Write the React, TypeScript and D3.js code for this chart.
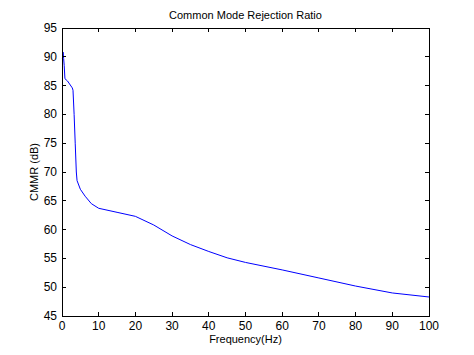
import React from "react";
import * as d3 from "d3";

const freq = [0.1, 0.3, 0.45, 0.6, 0.8, 1.5, 2.8, 3.0, 3.3, 3.6, 3.9, 4.1, 5, 6.3, 8, 10, 15, 20, 25, 30, 35, 40, 45, 50, 60, 70, 80, 90, 100];
const cmmr = [89.6, 90.8, 89.7, 88.5, 86.2, 85.8, 84.6, 84.2, 80, 75, 70, 68.5, 67, 65.8, 64.5, 63.7, 63.0, 62.3, 60.8, 58.9, 57.4, 56.2, 55.1, 54.3, 53.0, 51.6, 50.2, 49.0, 48.3];
const xTicks = [0, 10, 20, 30, 40, 50, 60, 70, 80, 90, 100];
const yTicks = [45, 50, 55, 60, 65, 70, 75, 80, 85, 90, 95];

export default function App() {
  const W = 474, H = 355;
  const left = 62, right = 429, top = 28, bottom = 316;
  const x = d3.scaleLinear().domain([0, 100]).range([left, right]);
  const y = d3.scaleLinear().domain([45, 95]).range([bottom, top]);
  const line = d3.line<number>().x((_, i) => x(freq[i])).y((d) => y(d));
  const font = "Arial, 'Liberation Sans', sans-serif";
  return (
    <svg width={W} height={H} style={{ position: "absolute", left: 0, top: 0, background: "#fff" }} fontFamily={font}>
      <rect x={0} y={0} width={W} height={H} fill="#fff" />
      <path d={line(cmmr) || ""} fill="none" stroke="#0000ff" strokeWidth={1} />
      <rect x={left} y={top} width={right - left} height={bottom - top} fill="none" stroke="#000" strokeWidth={1} shapeRendering="crispEdges" />
      {xTicks.map((t) => (
        <g key={"x" + t}>
          <line x1={x(t)} x2={x(t)} y1={bottom} y2={bottom - 4} stroke="#000" shapeRendering="crispEdges" />
          <line x1={x(t)} x2={x(t)} y1={top} y2={top + 4} stroke="#000" shapeRendering="crispEdges" />
          <text x={x(t)} y={bottom + 14} fontSize={12} textAnchor="middle" fill="#000">{t}</text>
        </g>
      ))}
      {yTicks.map((t) => (
        <g key={"y" + t}>
          <line x1={left} x2={left + 4} y1={y(t)} y2={y(t)} stroke="#000" shapeRendering="crispEdges" />
          <line x1={right} x2={right - 4} y1={y(t)} y2={y(t)} stroke="#000" shapeRendering="crispEdges" />
          <text x={left - 5} y={y(t) + 4} fontSize={12} textAnchor="end" fill="#000">{t}</text>
        </g>
      ))}
      <text x={(left + right) / 2} y={19} fontSize={11} textAnchor="middle" fill="#000">Common Mode Rejection Ratio</text>
      <text x={(left + right) / 2} y={343} fontSize={11} textAnchor="middle" fill="#000">Frequency(Hz)</text>
      <text transform={`translate(38,${(top + bottom) / 2}) rotate(-90)`} fontSize={11} textAnchor="middle" fill="#000">CMMR (dB)</text>
    </svg>
  );
}
